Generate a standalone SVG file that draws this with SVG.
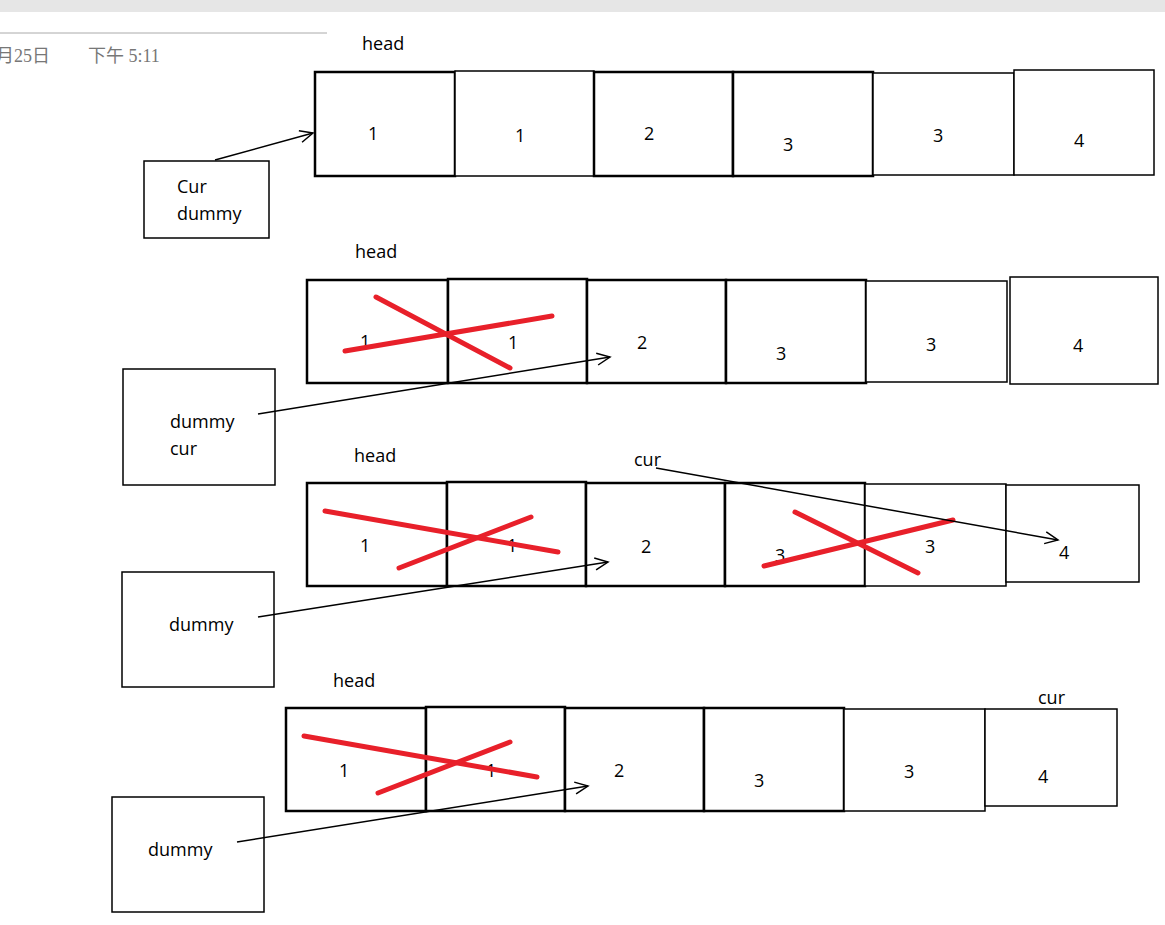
<svg xmlns="http://www.w3.org/2000/svg" width="1165" height="925" viewBox="0 0 1165 925">
<defs>
<marker id="ah" markerWidth="16" markerHeight="14" refX="14" refY="7" orient="auto" markerUnits="userSpaceOnUse"><path d="M1,1 L14,7 L1,13" fill="none" stroke="#000" stroke-width="1.5"/></marker>
<style>
.b{fill:#fff;stroke:#000;stroke-width:2.5}
.t{fill:#fff;stroke:#000;stroke-width:1.5}
text{font-family:"Open Sans","Liberation Sans",sans-serif;font-size:18px;fill:#000}
.g{fill:#777;font-family:"Liberation Serif","Noto Sans CJK SC",serif}
.x{stroke:#e8202a;stroke-width:5;stroke-linecap:round}
.c{stroke:#000;stroke-width:1.5;fill:none}
</style>
</defs>
<rect width="1165" height="925" fill="#fff"/>
<rect width="1165" height="12" fill="#e6e6e6"/>
<line x1="0" y1="33" x2="327" y2="33" stroke="#aaa" stroke-width="1"/>
<text class="g" x="-4" y="62">月25日</text>
<text class="g" x="88" y="62">下午 5:11</text>

<g id="row1">
<text x="362" y="50">head</text>
<rect class="b" x="315" y="72" width="140" height="104"/><text x="368" y="140">1</text>
<rect class="t" x="455" y="71" width="139" height="105"/><text x="515" y="142">1</text>
<rect class="b" x="594" y="72" width="139" height="104"/><text x="644" y="140">2</text>
<rect class="b" x="733" y="72" width="140" height="104"/><text x="783" y="151">3</text>
<rect class="t" x="873" y="73" width="141" height="102"/><text x="933" y="142">3</text>
<rect class="t" x="1014" y="70" width="140" height="105"/><text x="1074" y="147">4</text>
<rect class="t" x="144" y="161" width="125" height="77"/><text x="177" y="193">Cur</text><text x="177" y="220">dummy</text>
</g>

<g id="row2">
<text x="355" y="258">head</text>
<rect class="b" x="307" y="280" width="141" height="103"/><text x="360" y="348">1</text>
<rect class="b" x="448" y="279" width="139" height="104"/><text x="508" y="349">1</text>
<rect class="b" x="587" y="280" width="139" height="103"/><text x="637" y="349">2</text>
<rect class="b" x="726" y="280" width="140" height="103"/><text x="776" y="360">3</text>
<rect class="t" x="866" y="281" width="141" height="101"/><text x="926" y="351">3</text>
<rect class="t" x="1010" y="277" width="148" height="107"/><text x="1073" y="352">4</text>
<rect class="t" x="123" y="369" width="152" height="116"/><text x="170" y="428">dummy</text><text x="170" y="455">cur</text>
</g>

<g id="row3">
<text x="354" y="462">head</text>
<text x="634" y="466">cur</text>
<rect class="b" x="307" y="483" width="140" height="103"/><text x="360" y="552">1</text>
<rect class="b" x="447" y="482" width="139" height="104"/><text x="507" y="552">1</text>
<rect class="b" x="586" y="483" width="139" height="103"/><text x="641" y="553">2</text>
<rect class="b" x="725" y="483" width="140" height="103"/><text x="775" y="562">3</text>
<rect class="t" x="865" y="484" width="141" height="102"/><text x="925" y="553">3</text>
<rect class="t" x="1006" y="485" width="133" height="97"/><text x="1059" y="559">4</text>
<rect class="t" x="122" y="572" width="152" height="115"/><text x="169" y="631">dummy</text>
</g>

<g id="row4">
<text x="333" y="687">head</text>
<text x="1038" y="704">cur</text>
<rect class="b" x="286" y="708" width="140" height="103"/><text x="339" y="777">1</text>
<rect class="b" x="426" y="707" width="139" height="104"/><text x="486" y="777">1</text>
<rect class="b" x="565" y="708" width="139" height="103"/><text x="614" y="777">2</text>
<rect class="b" x="704" y="708" width="140" height="103"/><text x="754" y="787">3</text>
<rect class="t" x="844" y="709" width="141" height="102"/><text x="904" y="778">3</text>
<rect class="t" x="985" y="709" width="132" height="97"/><text x="1038" y="783">4</text>
<rect class="t" x="112" y="797" width="152" height="115"/><text x="148" y="856">dummy</text>
</g>

<g id="crosses">
<line class="x" x1="345" y1="351" x2="552" y2="316"/><line class="x" x1="376" y1="297" x2="510" y2="368"/>
<line class="x" x1="325" y1="511" x2="558" y2="552"/><line class="x" x1="399" y1="568" x2="531" y2="517"/>
<line class="x" x1="764" y1="566" x2="953" y2="520"/><line class="x" x1="795" y1="512" x2="918" y2="573"/>
<line class="x" x1="304" y1="736" x2="537" y2="777"/><line class="x" x1="378" y1="793" x2="510" y2="742"/>
</g>

<g id="connectors">
<line class="c" x1="215" y1="160" x2="313" y2="133" marker-end="url(#ah)"/>
<line class="c" x1="258" y1="414" x2="610" y2="357" marker-end="url(#ah)"/>
<line class="c" x1="258" y1="617" x2="608" y2="562" marker-end="url(#ah)"/>
<line class="c" x1="656" y1="468" x2="1058" y2="540" marker-end="url(#ah)"/>
<line class="c" x1="237" y1="842" x2="588" y2="786" marker-end="url(#ah)"/>
</g>
</svg>
